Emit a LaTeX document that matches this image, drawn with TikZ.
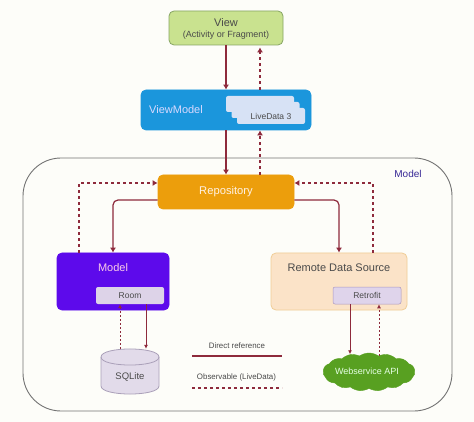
\documentclass[tikz,border=0pt]{standalone}
\usepackage{fontspec}
\setmainfont{Liberation Sans}
\usetikzlibrary{shapes.symbols,arrows.meta,calc}
\definecolor{arrowred}{HTML}{8E2A3C}
\definecolor{bgc}{HTML}{FDFDF9}
\definecolor{txt}{HTML}{4A4A4A}
\definecolor{modellabel}{RGB}{55,40,150}
\definecolor{viewfill}{RGB}{201,226,143}
\definecolor{viewline}{RGB}{135,165,100}
\definecolor{vmblue}{RGB}{27,150,220}
\definecolor{carda}{RGB}{215,226,245}
\definecolor{repoc}{RGB}{236,158,12}
\definecolor{purplec}{RGB}{93,10,235}
\definecolor{roomc}{RGB}{221,211,232}
\definecolor{remline}{RGB}{240,205,150}
\definecolor{remfill}{RGB}{251,227,200}
\definecolor{retroc}{RGB}{223,212,235}
\definecolor{retroline}{RGB}{170,150,190}
\definecolor{sqlline}{RGB}{170,160,185}
\definecolor{sqlfill}{RGB}{226,219,234}
\definecolor{apic}{RGB}{88,160,33}
\tikzset{
  box/.style={rounded corners=5pt,line width=0.8pt,inner sep=0pt,text=txt,align=center},
  card/.style={rounded corners=2pt,fill=#1,inner sep=0pt,text=txt,minimum width=68pt,minimum height=17pt,font=\fontsize{8.5}{10}\selectfont},
  direct/.style={draw=arrowred,line width=1.2pt,-{Latex[length=5pt,width=6pt]},rounded corners=5pt},
  observe/.style={draw=arrowred,line width=1.2pt,dash pattern=on 3pt off 3pt,-{Latex[length=5pt,width=6pt]}},
  thindirect/.style={direct,line width=0.9pt,-{Latex[length=4pt,width=4pt]}},
  thinobserve/.style={observe,line width=0.9pt,dash pattern=on 2pt off 2pt,-{Latex[length=4pt,width=4pt]}},
  legendtext/.style={inner sep=0pt,text=txt,font=\fontsize{7.9}{9}\selectfont},
  label text/.style={inner sep=0pt,text=#1,font=\fontsize{11}{13}\selectfont}
}
\begin{document}
\begin{tikzpicture}[x=1pt,y=-1pt]
\useasboundingbox (0,0) rectangle (474,422);
\fill[bgc] (0,0) rectangle (474,422);
% outer model frame
\node[draw=black!55,line width=0.9pt,rounded corners=38pt,minimum width=429pt,minimum height=253pt,inner sep=0pt] (frame) at (237.5,284.5) {};
\node[inner sep=0pt,text=modellabel,font=\fontsize{10}{12}\selectfont] (framelabel) at (408,174) {Model};
% nodes
\node[box,fill=viewfill,draw=viewline,minimum width=114pt,minimum height=34pt] (view) at (226,28) {};
\node[label text=txt] (viewt) at (226,23) {View};
\node[inner sep=0pt,text=txt,font=\fontsize{9}{10}\selectfont] (viewsub) at (226,35) {(Activity or Fragment)};
\node[box,draw=vmblue,fill=vmblue,minimum width=170pt,minimum height=40pt] (vm) at (226,110) {};
\node[label text=white!85!blue] (vmt) at (176,110) {ViewModel};
\node[card=carda,minimum height=16pt] (ld1) at (260,104) {};
\node[card=carda,minimum height=16pt] (ld2) at (265.5,110) {};
\node[card=carda,minimum height=16pt] (ld3) at (271,116) {LiveData 3};
\node[box,draw=repoc,fill=repoc,minimum width=136pt,minimum height=34pt,text=white!90!orange,font=\fontsize{11.2}{13}\selectfont] (repo) at (226,192) {Repository};
\node[box,draw=purplec,fill=purplec,minimum width=112pt,minimum height=57pt] (model) at (113,281.5) {};
\node[label text=white!80!magenta] (modelt) at (113,268) {Model};
\node[card=roomc] (room) at (130,295.5) {Room};
\node[box,draw=remline,fill=remfill,minimum width=136pt,minimum height=57pt] (remote) at (339,281.5) {};
\node[label text=txt] (remotet) at (339,268) {Remote Data Source};
\node[card=retroc,draw=retroline,line width=0.5pt] (retrofit) at (367,295.5) {Retrofit};
% SQLite cylinder
\draw[draw=sqlline,fill=sqlfill,line width=0.8pt] (101,357) -- (101,386) .. controls (101,396.7) and (159,396.7) .. (159,386) -- (159,357) .. controls (159,346.3) and (101,346.3) .. (101,357) -- cycle;
\draw[draw=sqlline,line width=0.8pt] (101,357) .. controls (101,367.7) and (159,367.7) .. (159,357);
\node[inner sep=0pt,minimum width=58pt,minimum height=45pt,text=txt,font=\fontsize{9.5}{11}\selectfont,text depth=-11pt] (sqlite) at (130,371.5) {};
\node[inner sep=0pt,text=txt,font=\fontsize{9.5}{11}\selectfont] (sqlitet) at (130,377) {SQLite};
\node[cloud,cloud puffs=15,cloud puff arc=70,aspect=2.6,fill=apic,draw=apic,minimum width=92pt,minimum height=38pt,inner sep=0pt] (api) at (369,372) {};
\node[inner sep=0pt,text=white!90!green,font=\fontsize{9}{11}\selectfont] (apit) at (367,371) {Webservice API};
% arrows
\draw[direct] (view.south) -- (vm.north);
\draw[observe] ([xshift=34pt]vm.north) -- ([xshift=34pt,yshift=-2pt]view.south);
\draw[direct] (vm.south) -- (repo.north);
\draw[observe] ([xshift=34pt]repo.north) -- ([xshift=34pt]vm.south);
\draw[observe] ([xshift=-34pt]model.north) |- ([yshift=9pt]repo.west);
\draw[observe] ([xshift=34pt]remote.north) |- ([yshift=9pt]repo.east);
\draw[direct] ([yshift=-8pt]repo.west) -| (model.north);
\draw[direct] ([yshift=-8pt]repo.east) -| (remote.north);
\draw[thinobserve] ([xshift=-10pt]sqlite.north) -- ([xshift=-10pt]room.south);
\draw[thindirect] ([xshift=16pt]room.south) -- ([xshift=16pt]sqlite.north);
\coordinate (apileft) at ($(retrofit.south)+(-17pt,-50pt)$);
\draw[thindirect] ([xshift=-17pt]retrofit.south) -- (apileft);
\coordinate (apitop) at ($(api.north)+(10pt,-3pt)$);
\draw[thinobserve] (apitop) -- (apitop |- retrofit.south);
% legend
\coordinate (l1a) at (192,356); \coordinate (l1b) at (282,356);
\coordinate (l2a) at (192,388); \coordinate (l2b) at (282,388);
\node[legendtext] (lt1) at (237,346) {Direct reference};
\node[legendtext] (lt2) at (236.5,377) {Observable (LiveData)};
\draw[arrowred,line width=1.2pt] (l1a) -- (l1b);
\draw[arrowred,line width=1.2pt,dash pattern=on 3pt off 3pt] (l2a) -- (l2b);
\end{tikzpicture}
\end{document}
